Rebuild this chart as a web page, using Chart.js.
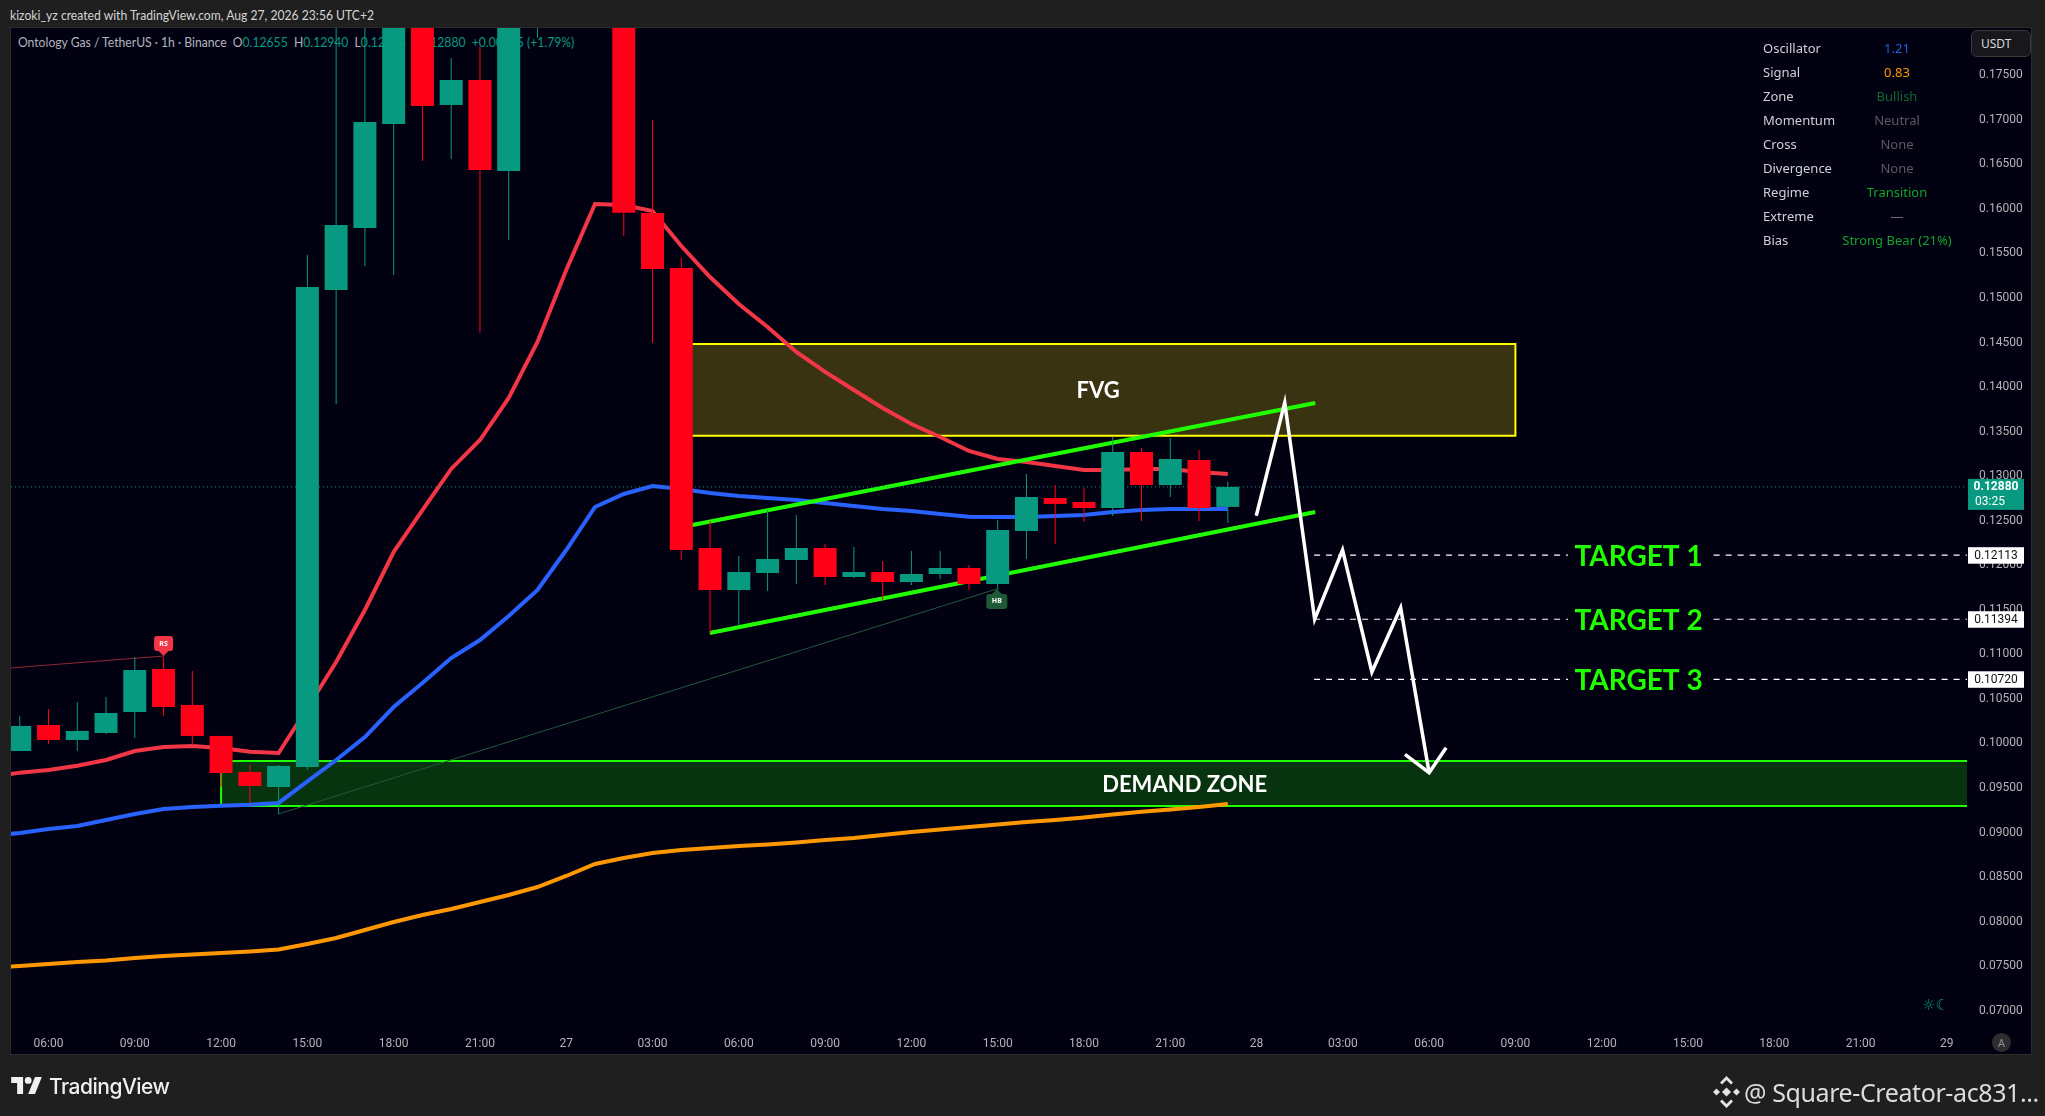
<!DOCTYPE html>
<html>
<head>
<meta charset="utf-8">
<title>Ontology Gas / TetherUS</title>
<script src="https://cdn.jsdelivr.net/npm/chart.js@4/dist/chart.umd.min.js"></script>
<style>
    html, body { margin: 0; padding: 0; background: #1f1f1f; overflow: hidden; }
    #page { position: relative; width: 2045px; height: 1116px; font-family: "Noto Sans", sans-serif; }
    #pane { position: absolute; left: 10px; top: 27px; width: 2022px; height: 1028px; background: #020112; border: 1px solid #2b2b2b; box-sizing: border-box; }
    #priceChart { position: absolute; left: 0; top: 0; }
    .txt { position: absolute; white-space: nowrap; font-size: 13px; line-height: 18px; }
    .lbl { color: #d0d1d4; }
    .val { transform: translateX(-50%); }
    .narrow { font-family: Lato, sans-serif; font-size: 13.5px; transform-origin: 0 50%; transform: scaleX(0.9); }
    #usdt { position: absolute; left: 1971px; top: 30px; width: 60px; height: 27px; border: 1px solid #3a3a38; border-radius: 6px; background: #17171c; box-sizing: border-box; color: #d8d8d8; font: 12px/25px "Noto Sans", sans-serif; padding-left: 9px; }
    #autoBtn { position: absolute; left: 1992px; top: 1033px; width: 19px; height: 19px; border-radius: 50%; background: #2e2e30; color: #8a8a8a; font: 11px/19px "Noto Sans", sans-serif; text-align: center; }
</style>
</head>
<body>
<div id="page">
    <div id="pane"></div>
    <div class="txt narrow" style="left:10px;top:6px;color:#d4d4d4;">kizoki_yz created with TradingView.com, Aug 27, 2026 23:56 UTC+2</div>
    <div class="txt narrow" id="legend" style="left:18px;top:33px;color:#b2b5be;">Ontology Gas / TetherUS · 1h · Binance &nbsp;O<span style="color:#089981">0.12655</span> &nbsp;H<span style="color:#089981">0.12940</span> &nbsp;L<span style="color:#089981">0.12475</span> &nbsp;C<span style="color:#089981">0.12880 &nbsp;+0.00225 (+1.79%)</span></div>
    <canvas id="priceChart" width="2045" height="1116"></canvas>
    <div id="table"></div>
    <div id="usdt">USDT</div>
    <div class="txt" style="left:1922px;top:996px;color:#089981;font-family:'DejaVu Sans';font-size:15px;">☼☾</div>
    <div id="autoBtn">A</div>
    <svg style="position:absolute;left:11px;top:1077px" width="31" height="17" viewBox="0 0 36 20">
        <path fill="#f0f0f0" d="M14 20H7V7H0V0h14v20zM28 20h-8l8-20h8L28 20z"/>
        <circle fill="#f0f0f0" cx="20" cy="4" r="4"/>
    </svg>
    <div class="txt" style="left:49px;top:1073px;color:#f0f0f0;font-size:21px;line-height:28px;font-family:Inter,sans-serif;font-weight:500;letter-spacing:-0.5px;">TradingView</div>
    <svg style="position:absolute;left:1713px;top:1075px" width="27" height="34" viewBox="0 0 27 34">
        <g fill="#e4e4e4" transform="translate(13.5 17)">
            <rect x="-4" y="-4" width="8" height="8" transform="rotate(45) scale(.8)"/>
            <rect x="-2.5" y="-2.5" width="5" height="5" transform="translate(-10 0) rotate(45)"/>
            <rect x="-2.5" y="-2.5" width="5" height="5" transform="translate(10 0) rotate(45)"/>
            <path d="M0-16l6.5 6.5-2 2L0-12l-4.5 4.5-2-2zM0 16l6.5-6.5-2-2L0 12l-4.5-4.5-2 2z"/>
        </g>
    </svg>
    <div class="txt" style="left:1744px;top:1074px;color:#dcdcdc;font-size:25px;line-height:36px;letter-spacing:-0.4px;">@ Square-Creator-ac831...</div>
</div>

<script>
// hours counted from 00:00 on the 26th, one candle per hour
const candleHours = [];
for (let h = 5; h <= 47; h++) candleHours.push(h);

const opens = [0.09915, 0.10207, 0.10039, 0.10117, 0.10353, 0.10836, 0.10432, 0.10084, 0.09680, 0.09511,
    0.09736, 0.15090, 0.15786, 0.16953, 0.19000, 0.17167, 0.17447, 0.16426, 0.18300, null, null,
    0.19000, 0.15954, 0.15337, 0.12194, 0.11722, 0.11913, 0.12059, 0.12194, 0.11868, 0.11924,
    0.11812, 0.11902, 0.11969, 0.11790, 0.12385, 0.12755, 0.12710, 0.12643, 0.13272, 0.12901, 0.13182, 0.12655];
const highs = [0.10308, 0.10387, 0.10465, 0.10521, 0.10967, 0.10974, 0.10813, 0.10084, 0.09758, 0.09758,
    0.15483, 0.18500, 0.18500, 0.19500, 0.19500, 0.17694, 0.17821, 0.19000, 0.19000, null, null,
    0.19500, 0.16998, 0.15449, 0.12497, 0.12104, 0.12620, 0.12564, 0.12239, 0.12205, 0.12048,
    0.12160, 0.12160, 0.12003, 0.12508, 0.13025, 0.12901, 0.12867, 0.13440, 0.13316, 0.13429, 0.13294, 0.12940];
const lows = [0.09915, 0.09994, 0.09915, 0.10106, 0.10061, 0.10308, 0.09983, 0.09514, 0.09332, 0.09208,
    0.09702, 0.13810, 0.15359, 0.15258, 0.16538, 0.16560, 0.14611, 0.15651, 0.17919, null, null,
    0.15696, 0.14498, 0.12059, 0.11240, 0.11330, 0.11711, 0.11790, 0.11779, 0.11857, 0.11610,
    0.11779, 0.11846, 0.11722, 0.11722, 0.12070, 0.12239, 0.12486, 0.12553, 0.12497, 0.12766, 0.12497, 0.12475];
const closes = [0.10196, 0.10039, 0.10140, 0.10342, 0.10825, 0.10409, 0.10084, 0.09668, 0.09522, 0.09747,
    0.15124, 0.15820, 0.16976, 0.19000, 0.17155, 0.17447, 0.16437, 0.18500, 0.18600, null, null,
    0.15958, 0.15326, 0.12171, 0.11722, 0.11924, 0.12070, 0.12194, 0.11868, 0.11924, 0.11812,
    0.11902, 0.11969, 0.11790, 0.12396, 0.12766, 0.12688, 0.12643, 0.13272, 0.12901, 0.13193, 0.12643, 0.12880];

// moving averages, first value is one hour left of the visible pane
const maHours = [];
for (let h = 4; h <= 47; h++) maHours.push(h);

const redMa = [0.09623, 0.09672, 0.09702, 0.09750, 0.09814, 0.09915, 0.09960, 0.09971, 0.09949, 0.09907, 0.09893,
    0.10398, 0.10914, 0.11498, 0.12149, 0.12620, 0.13081, 0.13406, 0.13878, 0.14506, 0.15314, 0.16055, 0.16044,
    0.15977, 0.15584, 0.15236, 0.14933, 0.14675, 0.14394, 0.14170, 0.13967, 0.13765, 0.13586, 0.13440, 0.13283,
    0.13193, 0.13159, 0.13114, 0.13070, 0.13070, 0.13081, 0.13081, 0.13047, 0.13025];
const blueMa = [0.08961, 0.08995, 0.09040, 0.09073, 0.09141, 0.09208, 0.09264, 0.09287, 0.09301, 0.09312, 0.09332,
    0.09575, 0.09814, 0.10072, 0.10409, 0.10679, 0.10959, 0.11161, 0.11430, 0.11722, 0.12171, 0.12654, 0.12800,
    0.12890, 0.12856, 0.12811, 0.12778, 0.12755, 0.12733, 0.12699, 0.12665, 0.12632, 0.12609, 0.12575, 0.12545,
    0.12542, 0.12542, 0.12553, 0.12564, 0.12598, 0.12620, 0.12632, 0.12632, 0.12632];
const orangeMa = [0.07485, 0.07502, 0.07524, 0.07546, 0.07563, 0.07591, 0.07614, 0.07631, 0.07648, 0.07664, 0.07687,
    0.07749, 0.07816, 0.07906, 0.07996, 0.08074, 0.08141, 0.08220, 0.08299, 0.08388, 0.08512, 0.08647, 0.08714,
    0.08770, 0.08804, 0.08826, 0.08849, 0.08866, 0.08888, 0.08916, 0.08938, 0.08972, 0.09006, 0.09034, 0.09062,
    0.09090, 0.09118, 0.09140, 0.09169, 0.09201, 0.09234, 0.09258, 0.09286, 0.09320];

// zones
const fvgHours = [28, 57];
const fvgPrices = [0.14484, 0.13454];
const demandHours = [12, 74];
const demandPrices = [0.09803, 0.09298];

// channel drawn on the chart
const channelHours = [28.03, 50.04];
const channelUpper = [0.12430, 0.13821];
const channelLowerHours = [28.99, 50.04];
const channelLower = [0.11240, 0.12598];

// projected path and arrow head
const pathHours = [47.99, 48.98, 50.02, 50.99, 52.01, 53.01, 54.0];
const pathPrices = [0.12556, 0.13825, 0.11393, 0.12171, 0.10802, 0.11524, 0.09672];
const arrowHours = [53.16, 54.0, 54.59];
const arrowPrices = [0.09878, 0.09672, 0.09952];

// targets
const targetNames = ['TARGET 1', 'TARGET 2', 'TARGET 3'];
const targetPrices = [0.12113, 0.11394, 0.10720];
const targetSpanHours = [50, 58.83, 63.89, 74];
const targetLabelHour = 61.28;

const lastPrice = 0.12880;
const priceTicks = [0.07, 0.075, 0.08, 0.085, 0.09, 0.095, 0.10, 0.105, 0.11, 0.115, 0.12, 0.125, 0.13, 0.135, 0.14, 0.145, 0.15, 0.155, 0.16, 0.165, 0.17, 0.175];
const timeTicks = {24: '27', 48: '28', 72: '29'};

// pivots
const rsLine = {hours: [4, 10], prices: [0.10830, 0.10981]};
const hbLine = {hours: [14, 38.97], prices: [0.09208, 0.11734]};

// table at top right
const tableLabels = ['Oscillator', 'Signal', 'Zone', 'Momentum', 'Cross', 'Divergence', 'Regime', 'Extreme', 'Bias'];
const tableValues = ['1.21', '0.83', 'Bullish', 'Neutral', 'None', 'None', 'Transition', '—', 'Strong Bear (21%)'];
const tableColors = ['#1f63d6', '#ff9800', '#0f6a2b', '#5c5c5e', '#5c5c5e', '#5c5c5e', '#10a52a', '#6a6a6c', '#10a52a'];

const UP = '#089981';
const DOWN = '#ff0019';
const LIME = '#20ff00';

let tableHtml = '';
tableLabels.forEach(function (label, i) {
    const top = 39 + i * 24;
    tableHtml += '<div class="txt lbl" style="left:1763px;top:' + top + 'px">' + label + '</div>';
    tableHtml += '<div class="txt val" style="left:1897px;top:' + top + 'px;color:' + tableColors[i] + '">' + tableValues[i] + '</div>';
});
document.getElementById('table').innerHTML = tableHtml;

function zip(xs, ys) {
    return xs.map(function (x, i) { return {x: x, y: ys[i]}; });
}

function line(label, xs, ys, color, width, order, extra) {
    return Object.assign({
        type: 'line',
        label: label,
        data: zip(xs, ys),
        borderColor: color,
        borderWidth: width,
        pointRadius: 0,
        tension: 0,
        fill: false,
        order: order
    }, extra || {});
}

function box(label, xs, ys, stroke, fill, width, order) {
    return line(label,
        [xs[0], xs[1], xs[1], xs[0], xs[0]],
        [ys[0], ys[0], ys[1], ys[1], ys[0]],
        stroke, width, order,
        {fill: 'shape', backgroundColor: fill});
}

const drawn = candleHours.map(function (h, i) { return i; }).filter(function (i) { return opens[i] !== null; });
const candleColors = drawn.map(function (i) { return closes[i] >= opens[i] ? UP : DOWN; });

const datasets = [
    box('FVG', fvgHours, fvgPrices, '#ffff00', '#3a3312', 2, 100),
    box('Demand', demandHours, demandPrices, LIME, '#07330f', 2, 99),
    line('Orange MA', maHours, orangeMa, '#ff9800', 4, 70),
    line('Red MA', maHours, redMa, '#f23645', 4, 62),
    line('Blue MA', maHours, blueMa, '#2962ff', 4, 60),
    line('RS', rsLine.hours, rsLine.prices, '#8c2a30', 1, 58),
    line('HB', hbLine.hours, hbLine.prices, '#24573a', 1, 58),
    line('Channel top', channelHours, channelUpper, LIME, 4, 55),
    line('Channel bottom', channelLowerHours, channelLower, LIME, 4, 55),
    line('Last price', [4, 74], [lastPrice, lastPrice], UP, 1, 50, {borderDash: [1, 3]}),
    {
        type: 'bar',
        label: 'Wicks',
        data: drawn.map(function (i) { return {x: candleHours[i], y: [lows[i], highs[i]]}; }),
        backgroundColor: candleColors,
        barThickness: 1,
        grouped: false,
        inflateAmount: 0,
        order: 20
    },
    {
        type: 'bar',
        label: 'Bodies',
        data: drawn.map(function (i) { return {x: candleHours[i], y: [opens[i], closes[i]]}; }),
        backgroundColor: candleColors,
        barThickness: 23,
        grouped: false,
        inflateAmount: 0,
        order: 10
    },
    line('Path', pathHours, pathPrices, '#ffffff', 3.5, 5),
    line('Arrow', arrowHours, arrowPrices, '#ffffff', 3.5, 5)
];

targetPrices.forEach(function (price, t) {
    const ys = [price, price, null, price, price];
    const xs = [targetSpanHours[0], targetSpanHours[1], targetSpanHours[1], targetSpanHours[2], targetSpanHours[3]];
    datasets.push(line(targetNames[t], xs, ys, '#ffffff', 1.2, 8, {borderDash: [6, 6], spanGaps: false}));
});

// text and small markers tied to the scales
const annotations = {
    id: 'annotations',
    afterDatasetsDraw: function (chart) {
        const ctx = chart.ctx;
        const x = chart.scales.x;
        const y = chart.scales.y;
        ctx.save();
        ctx.textBaseline = 'middle';
        ctx.textAlign = 'center';

        ctx.fillStyle = '#ffffff';
        ctx.font = 'bold 22px Lato';
        ctx.fillText('FVG', x.getPixelForValue(42.49), y.getPixelForValue(0.13967) + 1);
        ctx.font = 'bold 22px Lato';
        ctx.fillText('DEMAND ZONE', x.getPixelForValue(45.5), y.getPixelForValue(0.09545) + 1);

        ctx.fillStyle = LIME;
        ctx.font = 'bold 28px Lato';
        targetPrices.forEach(function (price, t) {
            ctx.fillText(targetNames[t], x.getPixelForValue(targetLabelHour), y.getPixelForValue(price) + 1.5);
        });

        // markers above and below the pivots
        marker(ctx, x.getPixelForValue(10), y.getPixelForValue(0.10981), -1, '#f23645', 'RS');
        marker(ctx, x.getPixelForValue(38.97), y.getPixelForValue(0.11734), 1, '#1f5a38', 'HB');

        // price tags
        ctx.font = '12px Roboto';
        targetPrices.forEach(function (price) {
            const py = y.getPixelForValue(price);
            ctx.fillStyle = '#ffffff';
            ctx.fillRect(1968, py - 8, 56, 16.5);
            ctx.fillStyle = '#111111';
            ctx.fillText(price.toFixed(5), 1996, py + 0.5);
        });
        const lp = y.getPixelForValue(lastPrice);
        ctx.fillStyle = UP;
        ctx.fillRect(1968, lp - 8, 56, 31);
        ctx.fillStyle = '#ffffff';
        ctx.font = 'bold 12px Roboto';
        ctx.fillText(lastPrice.toFixed(5), 1996, lp);
        ctx.font = '12px Roboto';
        ctx.fillText('03:25', 1990, lp + 15);
        ctx.restore();
    }
};

function marker(ctx, px, py, dir, color, text) {
    ctx.fillStyle = color;
    ctx.beginPath();
    ctx.moveTo(px, py);
    ctx.lineTo(px - 5, py + dir * 5);
    ctx.lineTo(px + 5, py + dir * 5);
    ctx.closePath();
    ctx.fill();
    ctx.beginPath();
    if (dir < 0) ctx.roundRect(px - 9.5, py - 20, 19, 15, 3);
    else ctx.roundRect(px - 10.5, py + 5, 21, 15, 3);
    ctx.fill();
    ctx.fillStyle = '#ffffff';
    ctx.font = 'bold 7px "Noto Sans"';
    ctx.fillText(text, px, py + dir * 12.5);
}

new Chart(document.getElementById('priceChart').getContext('2d'), {
    type: 'bar',
    data: {datasets: datasets},
    plugins: [annotations],
    options: {
        responsive: false,
        animation: false,
        devicePixelRatio: 1,
        layout: {padding: {left: 11, top: 28, right: 12, bottom: 60}},
        plugins: {legend: {display: false}, tooltip: {enabled: false}, title: {display: false}},
        scales: {
            x: {
                type: 'linear',
                offset: false,
                min: 4.696,
                max: 72.7,
                grid: {display: false},
                border: {display: false},
                afterFit: function (scale) { scale.height = 30; },
                ticks: {
                    stepSize: 3,
                    includeBounds: false,
                    autoSkip: false,
                    maxRotation: 0,
                    padding: 3,
                    color: '#b4b4b6',
                    font: {family: 'Roboto', size: 12},
                    callback: function (value) {
                        if (timeTicks[value]) return timeTicks[value];
                        const hour = value % 24;
                        return (hour < 10 ? '0' : '') + hour + ':00';
                    }
                }
            },
            y: {
                type: 'linear',
                position: 'right',
                min: 0.06828,
                max: 0.18031,
                grid: {display: false},
                border: {display: false},
                afterFit: function (scale) { scale.width = 66; },
                afterBuildTicks: function (scale) {
                    scale.ticks = priceTicks.map(function (v) { return {value: v}; });
                },
                ticks: {
                    padding: 4,
                    color: '#b4b4b6',
                    font: {family: 'Roboto', size: 12},
                    callback: function (value) { return value.toFixed(5); }
                }
            }
        }
    }
});
</script>
</body>
</html>
